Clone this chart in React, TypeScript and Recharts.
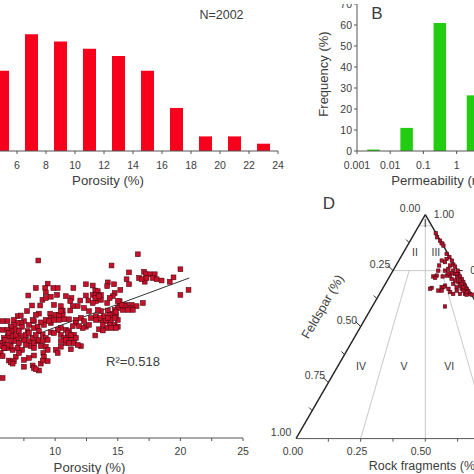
import React from "react";
import {
  BarChart,
  Bar,
  ScatterChart,
  Scatter,
  XAxis,
  YAxis,
  ReferenceLine,
} from "recharts";

const FONT = "'Liberation Sans', Arial, sans-serif";
const INK = "#3c3c3c";
const AXIS = "#555";

// panel A: porosity histogram
const porosityBins = [5, 7, 9, 11, 13, 15, 17, 19, 21, 23];
const porosityFreq = [11, 16, 15, 14, 13, 11, 5.9, 2, 2, 1];
const porosityTicks = [6, 8, 10, 12, 14, 16, 18, 20, 22, 24];

// panel B: permeability histogram, log axis
const permBins = [0.0032, 0.032, 0.32, 3.2];
const permFreq = [0.7, 11, 61, 26.5];
const permTicks = [0.001, 0.01, 0.1, 1];
const permFreqTicks = [0, 10, 20, 30, 40, 50, 60, 70];

// panel C: porosity against permeability (vertical axis is cut off in the source)
const crossplot: [number, number][] = [
  [16.6, 14.7], [8.65, 14.2], [14.5, 13.8], [20, 13.5], [15.9, 13.25], [17.1, 13.3], [17.25, 13.1], [16.7, 12.8],
  [17.55, 13.1], [17.95, 13.1], [17.8, 12.8], [17.15, 12.5], [16.9, 12.7], [17.3, 12.8], [18.1, 12.7], [18.5, 12.6],
  [19.15, 12.5], [19.45, 12.85], [15.7, 12.7], [15.9, 12.3], [14.2, 12.45], [14.7, 12.3], [14.15, 12.15], [12.45, 12.3],
  [13, 12.2], [9.4, 12.35], [8.45, 12], [9.2, 12], [9.85, 12], [10.2, 12], [11.45, 12], [9.25, 11.65],
  [13.2, 11.8], [13.4, 11.75], [15.2, 11.85], [14.75, 11.6], [14.6, 11.35], [20.65, 11.85], [20, 11.45], [7.85, 11.4],
  [8.98, 11.05], [9.25, 11.2], [9.65, 11.3], [10.15, 11.45], [10.85, 11.35], [11.3, 11.2], [11.2, 10.95], [12, 11],
  [12.45, 11.4], [13, 11.45], [12.65, 11], [13.25, 11.45], [13.65, 11.45], [13.65, 11.05], [13.25, 10.95], [14.35, 11.2],
  [14.15, 10.8], [15.15, 10.95], [17, 10.8], [16.5, 10.55], [16.1, 10.65], [15.95, 10.4], [15.65, 10.65], [15.15, 10.55],
  [15, 10.4], [15.4, 10.25], [14.75, 10.25], [14.2, 10.2], [14.6, 9.95], [14.85, 9.75], [14.45, 9.45], [13.65, 10.15],
  [13.4, 10.25], [12.7, 10.15], [12.3, 10.4], [11.8, 10.55], [11.4, 10.55], [8.15, 10.6], [8.8, 10.6], [9.9, 10.65],
  [10.45, 10.55], [10.6, 10.2], [11.2, 10.2], [10.6, 9.85], [7.75, 10.15], [7, 9.75], [7.25, 9.8], [6.7, 9.45],
  [8.7, 9.95], [8.45, 9.85], [9.6, 9.95], [9.65, 9.6], [10.05, 9.85], [10.3, 9.45], [10.7, 9.5], [11.1, 9.5],
  [11.65, 9.45], [12.05, 9.6], [12.3, 9.35], [12.85, 9.6], [13.25, 9.75], [13.65, 9.45], [14.05, 9.35], [14.35, 9.05],
  [14.75, 9.05], [15, 8.9], [14.85, 8.8], [14.45, 8.8], [14.05, 8.8], [13.8, 9.05], [13.5, 8.7], [13.8, 8.6],
  [13.2, 8.2], [12.45, 8.9], [12.2, 8.8], [12.7, 9.05], [11.65, 9.2], [11.9, 8.95], [11.4, 8.95], [10.45, 8.8],
  [10.2, 8.65], [9.65, 9.2], [9.1, 9.05], [8.85, 9.25], [8.3, 9.35], [8.2, 9.45], [7.9, 9.05], [7.5, 9.35],
  [7.25, 9.2], [7, 9.2], [6.7, 9.05], [6.45, 8.9], [6.2, 9.35], [5.8, 9.35], [5.8, 8.65], [6.2, 8.65],
  [6.55, 8.55], [6.85, 8.7], [7.35, 8.9], [7.8, 8.55], [8.3, 8.8], [8.6, 8.9], [8.7, 8.55], [9, 8.25],
  [9.25, 8], [9.65, 8.45], [9.9, 8.4], [10.45, 8.25], [10.85, 8.65], [11.1, 8.55], [11.5, 8.25], [11.65, 8],
  [11, 8], [10.7, 8], [10.45, 7.75], [10.85, 7.6], [11.25, 7.85], [11.5, 7.6], [12.05, 7.35], [11.8, 7.45],
  [11.25, 7.1], [10.45, 7.3], [10.05, 7.05], [10.2, 6.8], [9.25, 7.3], [9.4, 7.05], [9.05, 6.8], [9.1, 6.5],
  [9.4, 6.15], [8.85, 5.95], [9, 6.2], [8.3, 6.6], [7.9, 6.4], [7.5, 6.25], [7.5, 5.7], [6.85, 6.5],
  [6.7, 6.15], [6.3, 6.2], [6.45, 6.05], [6.6, 5.95], [5.8, 4.8], [8.2, 5.8], [8.3, 5.6], [8.7, 5.4],
  [8.45, 5.5], [8.05, 7.35], [8.3, 7.6], [8.6, 7.75], [8.3, 7.2], [8.85, 7.35], [7.9, 7.75], [7.5, 7.85],
  [7.25, 8.15], [7, 8], [6.7, 7.75], [6.45, 7.85], [6.2, 8.15], [5.9, 8], [5.8, 7.6], [5.65, 7.35],
  [6, 7.2], [6.3, 7.2], [6.6, 7.05], [7, 7.2], [7.35, 7.05], [7.1, 6.8], [6.45, 7.35], [5.65, 6.8],
  [5.8, 6.55], [6, 7.85], [6.3, 8.4], [6.6, 8.15], [6.85, 8.25], [7.1, 8.55], [7.65, 8.25], [7.9, 8.4],
  [8.2, 8], [8.45, 8.25], [8.7, 7.85], [9, 7.75], [9.4, 7.85], [7.1, 7.6], [7.65, 7.45], [6.2, 7.45],
  [5.9, 7.2], [15.55, 10.55], [15.8, 10.25], [16.2, 10.25], [15.3, 10.65], [14.85, 10.1], [14.35, 9.85], [13.9, 9.75],
  [13.55, 9.6], [13.25, 9.45], [15, 9.45], [14.75, 9.6], [14.2, 9.6], [11, 8.4], [11.25, 8.25], [10.85, 7.85],
  [11.1, 7.6], [13, 10.8], [13.4, 11.2], [13.2, 11.2], [13.5, 11.35], [15, 10.95], [9.25, 9.45], [9.5, 9.35],
  [9.9, 9.45], [10.3, 9.85], [10.45, 10.15],
];
const fitLine: [number, number][] = [[5, 7], [20.7, 12.8]];
const crossplotTicks = [7.5, 10, 12.5, 15, 17.5, 20, 22.5, 25];

// panel D: ternary samples as [rock fragments, quartz]
const ternarySamples: [number, number][] = [
  [0.082, 0.917], [0.096, 0.899], [0.115, 0.884], [0.127, 0.872], [0.139, 0.862], [0.17, 0.825], [0.188, 0.81], [0.205, 0.795],
  [0.22, 0.777], [0.231, 0.768], [0.25, 0.75], [0.26, 0.735], [0.272, 0.724], [0.284, 0.713], [0.298, 0.698], [0.312, 0.683],
  [0.326, 0.669], [0.337, 0.658], [0.35, 0.646], [0.358, 0.643], [0.181, 0.802], [0.166, 0.795], [0.182, 0.788], [0.167, 0.773],
  [0.209, 0.773], [0.21, 0.758], [0.201, 0.75], [0.233, 0.75], [0.175, 0.75], [0.247, 0.735], [0.263, 0.718], [0.279, 0.698],
  [0.293, 0.683], [0.306, 0.669], [0.317, 0.661], [0.33, 0.646], [0.338, 0.643], [0.311, 0.646], [0.283, 0.676], [0.263, 0.691],
  [0.245, 0.713], [0.232, 0.728], [0.219, 0.728], [0.205, 0.724], [0.18, 0.728], [0.169, 0.724], [0.179, 0.718], [0.235, 0.683],
  [0.225, 0.676], [0.232, 0.676], [0.22, 0.661], [0.233, 0.661], [0.255, 0.669], [0.269, 0.654], [0.285, 0.646], [0.188, 0.673],
  [0.184, 0.669], [0.281, 0.59], [0.262, 0.706], [0.291, 0.661], [0.295, 0.691], [0.309, 0.676], [0.333, 0.654], [0.281, 0.706],
  [0.233, 0.738], [0.22, 0.738], [0.254, 0.735],
];
const ternaryStep = [0.125, 0.25, 0.375, 0.5, 0.625, 0.75, 0.875];

// ternary corners and grid, [rock fragments, quartz]
const triangleEdges: [number, number][][] = [
  [[0, 0], [0, 1]],
  [[0, 1], [1, 0]],
  [[0, 0], [1, 0]],
];
const fieldLines: [number, number][][] = [
  [[0, 0.95], [0.05, 0.95]],
  [[0, 0.75], [0.25, 0.75]],
  [[0, 1], [0.5, 0]],
  [[0.0625, 0.75], [0.25, 0]],
  [[0.1875, 0.75], [0.75, 0]],
];

// text on the ternary plot, placed in plot units
const ternaryLabels = [
  { text: "0.00", x: 0.441, y: 0.891 },
  { text: "1.00", x: 0.572, y: 0.867 },
  { text: "0.25", x: 0.713, y: 0.651 },
  { text: "0.25", x: 0.325, y: 0.674 },
  { text: "0.50", x: 0.197, y: 0.457 },
  { text: "0.75", x: 0.073, y: 0.245 },
  { text: "1.00", x: -0.058, y: 0.024 },
  { text: "0.00", x: -0.012, y: -0.049 },
  { text: "0.25", x: 0.236, y: -0.049 },
  { text: "0.50", x: 0.483, y: -0.049 },
  { text: "I", x: 0.5, y: 0.833 },
  { text: "II", x: 0.46, y: 0.72 },
  { text: "III", x: 0.541, y: 0.72 },
  { text: "IV", x: 0.251, y: 0.28 },
  { text: "V", x: 0.418, y: 0.28 },
  { text: "VI", x: 0.592, y: 0.28 },
];

const toPlane = ([rock, quartz]: [number, number]) => ({
  x: rock + quartz / 2,
  y: (quartz * Math.sqrt(3)) / 2,
});

const tickStyle = { fontSize: 10.5, fill: INK, fontFamily: FONT };
const axisLabelStyle = { fontSize: 13.2, fill: INK, fontFamily: FONT };

const Note = ({ x, y, size = 12.5, angle = 0, children }: any) => (
  <div
    style={{
      position: "absolute",
      left: x,
      top: y,
      transform: `translate(-50%, -50%) rotate(${angle}deg)`,
      fontFamily: FONT,
      fontSize: size,
      color: INK,
      whiteSpace: "nowrap",
      lineHeight: 1,
    }}
  >
    {children}
  </div>
);

const LabelMark = (props: any) => (
  <text
    x={props.cx}
    y={props.cy}
    dy="0.35em"
    textAnchor="middle"
    fontSize={10.5}
    fontFamily={FONT}
    fill={INK}
  >
    {props.payload.text}
  </text>
);

const squareMark = (side: number, fill: string) => (props: any) => (
  <rect
    x={props.cx - side / 2}
    y={props.cy - side / 2}
    width={side}
    height={side}
    fill={fill}
    stroke="#4d0a12"
    strokeWidth={0.6}
  />
);

const PorosityPanel = () => {
  const data = porosityBins.map((bin, i) => ({ bin, freq: porosityFreq[i] }));
  return (
    <div style={{ position: "absolute", left: -70, top: 5 }}>
      <BarChart width={360} height={190} data={data} margin={{ top: 0, right: 12, bottom: 10, left: 0 }}>
        <XAxis
          type="number"
          dataKey="bin"
          domain={[0, 24]}
          ticks={porosityTicks}
          interval={0}
          height={34}
          stroke={AXIS}
          tickSize={3}
          tickMargin={8}
          tick={tickStyle}
          label={{ value: "Porosity (%)", position: "insideBottom", offset: 0, dx: 4, style: axisLabelStyle }}
        />
        <YAxis hide domain={[0, 20]} />
        <Bar dataKey="freq" fill="#f6001c" barSize={13} isAnimationActive={false} />
      </BarChart>
    </div>
  );
};

const PermeabilityPanel = () => {
  const data = permBins.map((bin, i) => ({ bin, freq: permFreq[i] }));
  return (
    <div style={{ position: "absolute", left: 316.7, top: 4.3 }}>
      <BarChart width={218} height={190} data={data} margin={{ top: 0, right: 12, bottom: 9, left: 0 }}>
        <XAxis
          type="number"
          dataKey="bin"
          scale="log"
          domain={[0.001, 100]}
          ticks={permTicks}
          interval={0}
          height={34}
          stroke={AXIS}
          tickSize={3}
          tickMargin={8}
          tick={tickStyle}
          tickFormatter={(v: number) => String(v)}
          label={{ value: "Permeability (mD)", position: "insideBottom", offset: 0, dx: 4, style: axisLabelStyle }}
        />
        <YAxis
          width={40}
          domain={[0, 70]}
          ticks={permFreqTicks}
          interval={0}
          stroke={AXIS}
          tickSize={3}
          tick={tickStyle}
        />
        <Bar dataKey="freq" fill="#22cc11" barSize={12.5} isAnimationActive={false} />
      </BarChart>
    </div>
  );
};

const CrossplotPanel = () => {
  const data = crossplot.map(([x, y]) => ({ x, y }));
  return (
    <div style={{ position: "absolute", left: -70.5, top: 238 }}>
      <ScatterChart width={325} height={236} margin={{ top: 0, right: 12, bottom: 0, left: 0 }}>
        <XAxis
          type="number"
          dataKey="x"
          domain={[0, 25]}
          ticks={crossplotTicks}
          interval={0}
          height={36}
          stroke={AXIS}
          tickSize={3}
          tickMargin={7}
          tick={tickStyle}
          tickFormatter={(v: number) => (v % 5 === 0 ? String(v) : "")}
          label={{ value: "Porosity (%)", position: "insideBottom", offset: 2, dx: 3, style: axisLabelStyle }}
        />
        <YAxis hide type="number" dataKey="y" domain={[0, 16]} />
        <Scatter data={data} shape={squareMark(4.8, "#c8102a")} isAnimationActive={false} />
        <ReferenceLine
          segment={fitLine.map(([x, y]) => ({ x, y }))}
          stroke="#333"
          strokeWidth={1}
          ifOverflow="visible"
        />
      </ScatterChart>
    </div>
  );
};

const TernaryPanel = () => {
  const samples = ternarySamples.map(toPlane);
  return (
    <div style={{ position: "absolute", left: 265, top: 179.7 }}>
      <ScatterChart width={295.5} height={294.8} margin={{ top: 0, right: 0, bottom: 0, left: 0 }}>
        <XAxis hide type="number" dataKey="x" domain={[-0.12, 1.0228]} />
        <YAxis hide type="number" dataKey="y" domain={[-0.14, 1]} />
        {fieldLines.map((line, i) => (
          <ReferenceLine key={`field-${i}`} segment={line.map(toPlane)} stroke="#c8c8c8" strokeWidth={1} ifOverflow="visible" />
        ))}
        {triangleEdges.map((edge, i) => (
          <ReferenceLine
            key={`edge-${i}`}
            segment={edge.map(toPlane)}
            stroke={i === 2 ? AXIS : "#222"}
            strokeWidth={i === 2 ? 1 : 1.4}
            ifOverflow="visible"
          />
        ))}
        {ternaryStep.map((t) => {
          const major = t % 0.25 === 0;
          const len = major ? 0.02 : 0.012;
          const left = toPlane([0, 1 - t]);
          const right = toPlane([t, 1 - t]);
          const bottom = toPlane([t, 0]);
          return (
            <React.Fragment key={t}>
              <ReferenceLine segment={[left, { x: left.x - len, y: left.y + len }]} stroke="#222" ifOverflow="visible" />
              <ReferenceLine segment={[right, { x: right.x + len, y: right.y }]} stroke="#222" ifOverflow="visible" />
              <ReferenceLine segment={[bottom, { x: bottom.x, y: bottom.y - 0.012 }]} stroke={AXIS} ifOverflow="visible" />
            </React.Fragment>
          );
        })}
        <Scatter data={samples} shape={squareMark(3.4, "#b5102a")} isAnimationActive={false} />
        <Scatter data={ternaryLabels} shape={LabelMark} isAnimationActive={false} />
      </ScatterChart>
    </div>
  );
};

export default function App() {
  return (
    <div
      style={{
        position: "fixed",
        left: 0,
        top: 0,
        width: 474,
        height: 474,
        overflow: "hidden",
        background: "#fff",
      }}
    >
      <PorosityPanel />
      <PermeabilityPanel />
      <CrossplotPanel />
      <TernaryPanel />
      <Note x={221.5} y={15}>N=2002</Note>
      <Note x={377} y={13} size={17}>B</Note>
      <Note x={323} y={74} size={13}>
        <span style={{ display: "inline-block", transform: "rotate(-90deg)" }}>Frequency (%)</span>
      </Note>
      <Note x={133} y={361} size={13}>R²=0.518</Note>
      <Note x={329} y={203} size={17}>D</Note>
      <Note x={323} y={307} angle={-60}>Feldspar (%)</Note>
      <Note x={424} y={466}>Rock fragments (%)</Note>
    </div>
  );
}
